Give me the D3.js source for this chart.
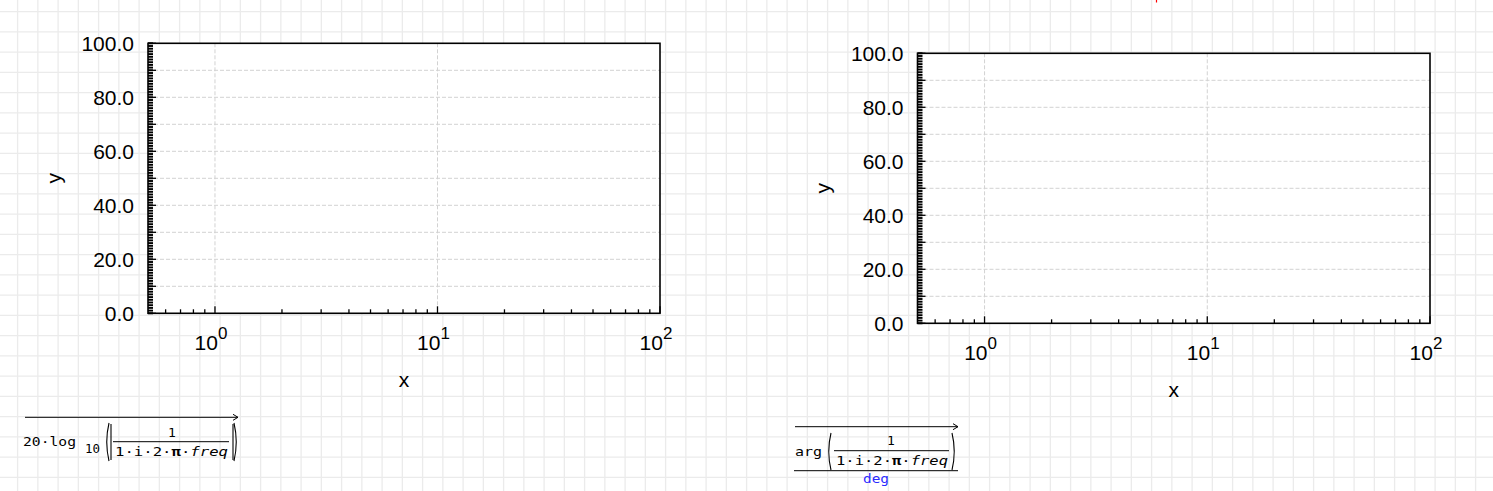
<!DOCTYPE html>
<html>
<head>
<meta charset="utf-8">
<script src="https://cdn.jsdelivr.net/npm/d3@7"></script>
<style>
  body { margin: 0; background: #fff; }
  svg { display: block; }
  .tick-label, .axis-title { font-family: "Liberation Sans", Arial, sans-serif; fill: #000; }
  .math { font-family: "DejaVu Sans Mono", "Liberation Mono", monospace; fill: #000; }
</style>
</head>
<body>
<div id="sheet"></div>
<script>
// Page size.
const WIDTH = 1493;
const HEIGHT = 491;

// Worksheet background grid.
const SHEET = { step: 20.25, x0: 17.6, y0: 11.7 };

// Both plots share the same (empty) axes.
const xDomain = [0.5, 100];
const yDomain = [0, 100];
const xDecades = [1, 10, 100];
const xDecadeExponents = ["0", "1", "2"];
const xMinorTicks = [0.6, 0.7, 0.8, 0.9, 2, 3, 4, 5, 6, 7, 8, 9, 20, 30, 40, 50, 60, 70, 80, 90];
const yLabelValues = [0, 20, 40, 60, 80, 100];
const yGridValues = [10, 20, 30, 40, 50, 60, 70, 80, 90];
const yMajorTicks = [0, 10, 20, 30, 40, 50, 60, 70, 80, 90, 100];

// Traces: no points evaluated in the reference (freq undefined).
const magnitudeDb = [];
const phaseDeg = [];

// Plot frames: left, right, top, bottom.
const PLOTS = [
  { l: 148, r: 660, t: 43.3, b: 313.3, xTitleY: 387, yTitleX: 61, series: magnitudeDb },
  { l: 917.5, r: 1430, t: 53.3, b: 323.3, xTitleY: 397, yTitleX: 830, series: phaseDeg },
];

const svg = d3
  .select("#sheet")
  .append("svg")
  .attr("width", WIDTH)
  .attr("height", HEIGHT);

// Background grid.
const grid = svg.append("g").attr("stroke", "#ebebeb").attr("stroke-width", 1.3);
for (let x = SHEET.x0; x < WIDTH; x += SHEET.step) {
  grid.append("line").attr("x1", x).attr("x2", x).attr("y1", 0).attr("y2", HEIGHT);
}
for (let y = SHEET.y0; y < HEIGHT; y += SHEET.step) {
  grid.append("line").attr("x1", 0).attr("x2", WIDTH).attr("y1", y).attr("y2", y);
}

// Little red mark at the top edge (cut-off region).
svg.append("line")
  .attr("x1", 1156.5).attr("x2", 1156.5).attr("y1", 0).attr("y2", 2.5)
  .attr("stroke", "#ff0000").attr("stroke-width", 1.2);

PLOTS.forEach(drawPlot);

function drawPlot(p) {
  const x = d3.scaleLog().domain(xDomain).range([p.l, p.r]);
  const y = d3.scaleLinear().domain(yDomain).range([p.b, p.t]);
  const g = svg.append("g");

  g.append("rect")
    .attr("x", p.l).attr("y", p.t)
    .attr("width", p.r - p.l).attr("height", p.b - p.t)
    .attr("fill", "#fff");

  // Dashed grid lines.
  g.selectAll(".vgrid")
    .data(xDecades.filter((d) => d < xDomain[1]))
    .enter().append("line")
    .attr("x1", (d) => x(d)).attr("x2", (d) => x(d))
    .attr("y1", p.t).attr("y2", p.b)
    .attr("stroke", "#d2d2d2").attr("stroke-dasharray", "4,2");
  g.selectAll(".hgrid")
    .data(yGridValues)
    .enter().append("line")
    .attr("x1", p.l).attr("x2", p.r)
    .attr("y1", (d) => y(d)).attr("y2", (d) => y(d))
    .attr("stroke", "#d2d2d2").attr("stroke-dasharray", "4,2");

  // Trace (empty).
  g.append("path")
    .datum(p.series)
    .attr("fill", "none").attr("stroke", "#c00000")
    .attr("d", d3.line().x((d) => x(d[0])).y((d) => y(d[1])));

  // Y ticks, pointing inward: dense minor ticks and longer ones every 10.
  g.selectAll(".yminor")
    .data(d3.range(yDomain[0], yDomain[1] + 1, 1))
    .enter().append("line")
    .attr("x1", p.l).attr("x2", p.l + 5)
    .attr("y1", (d) => y(d)).attr("y2", (d) => y(d))
    .attr("stroke", "#000").attr("stroke-width", 1.9);
  g.selectAll(".ymajor")
    .data(yMajorTicks)
    .enter().append("line")
    .attr("x1", p.l).attr("x2", p.l + 8)
    .attr("y1", (d) => y(d)).attr("y2", (d) => y(d))
    .attr("stroke", "#000").attr("stroke-width", 1.3);

  // X ticks, pointing up from the bottom.
  g.selectAll(".xminor")
    .data(xMinorTicks)
    .enter().append("line")
    .attr("x1", (d) => x(d)).attr("x2", (d) => x(d))
    .attr("y1", p.b).attr("y2", p.b - 4)
    .attr("stroke", "#000").attr("stroke-width", 1.3);
  g.selectAll(".xmajor")
    .data(xDecades)
    .enter().append("line")
    .attr("x1", (d) => x(d)).attr("x2", (d) => x(d))
    .attr("y1", p.b).attr("y2", p.b - 7)
    .attr("stroke", "#000").attr("stroke-width", 1.3);

  // Frame.
  g.append("rect")
    .attr("x", p.l).attr("y", p.t)
    .attr("width", p.r - p.l).attr("height", p.b - p.t)
    .attr("fill", "none").attr("stroke", "#000").attr("stroke-width", 1.6);

  // Y tick labels.
  g.selectAll(".ylabel")
    .data(yLabelValues)
    .enter().append("text")
    .attr("class", "tick-label")
    .attr("x", p.l - 14)
    .attr("y", (d) => y(d))
    .attr("dy", "0.36em")
    .attr("text-anchor", "end")
    .style("font-size", "21px")
    .text(d3.format(".1f"));

  // X tick labels: 10 with a superscript exponent.
  const xl = g.selectAll(".xlabel")
    .data(xDecades)
    .enter().append("text")
    .attr("class", "tick-label")
    .attr("x", (d) => x(d) - 4)
    .attr("y", p.b + 37)
    .attr("text-anchor", "middle")
    .style("font-size", "21px");
  xl.append("tspan").text("10");
  xl.append("tspan")
    .attr("dy", -11)
    .style("font-size", "17px")
    .text((d, i) => xDecadeExponents[i]);

  // Axis titles.
  g.append("text")
    .attr("class", "axis-title")
    .attr("x", (p.l + p.r) / 2)
    .attr("y", p.xTitleY)
    .attr("text-anchor", "middle")
    .style("font-size", "21px")
    .text("x");
  g.append("text")
    .attr("class", "axis-title")
    .attr("transform", "translate(" + p.yTitleX + "," + (p.t + p.b) / 2 + ") rotate(-90)")
    .attr("text-anchor", "middle")
    .style("font-size", "21px")
    .text("y");
}

// Mathcad expressions below the plots.
function mathText(x, y, size, width, parts, anchor) {
  const t = svg.append("text")
    .attr("class", "math")
    .attr("x", x).attr("y", y)
    .attr("text-anchor", anchor || "start")
    .style("font-size", size + "px");
  if (width) t.attr("textLength", width).attr("lengthAdjust", "spacingAndGlyphs");
  parts.forEach((s) => {
    const sp = t.append("tspan").text(s.t);
    if (s.b) sp.style("font-weight", "bold");
    if (s.i) sp.style("font-style", "italic");
    if (s.c) sp.style("fill", s.c);
  });
  return t;
}

function hline(x1, x2, y) {
  svg.append("line")
    .attr("x1", x1).attr("x2", x2).attr("y1", y).attr("y2", y)
    .attr("stroke", "#000").attr("stroke-width", 1);
}

function vecArrow(x1, x2, y) {
  hline(x1, x2, y);
  svg.append("path")
    .attr("d", "M" + (x2 - 5) + "," + (y - 3) + "L" + x2 + "," + y + "L" + (x2 - 5) + "," + (y + 3))
    .attr("fill", "none").attr("stroke", "#000").attr("stroke-width", 1);
}

function paren(x, y1, y2, dir) {
  // dir = 1 for "(", -1 for ")"
  const h = y2 - y1;
  svg.append("path")
    .attr("d", "M" + (x + 3 * dir) + "," + y1 +
      "Q" + (x - 1.5 * dir) + "," + (y1 + h / 2) + " " + (x + 3 * dir) + "," + y2)
    .attr("fill", "none").attr("stroke", "#000").attr("stroke-width", 1.1);
}

function vbar(x, y1, y2) {
  svg.append("line")
    .attr("x1", x).attr("x2", x).attr("y1", y1).attr("y2", y2)
    .attr("stroke", "#000").attr("stroke-width", 1.1);
}

const denom = [{ t: "1·i·2·" }, { t: "π", b: true }, { t: "·" }, { t: "freq", i: true }];

// 20·log10(|1/(1·i·2·π·freq)|) with vectorize arrow.
vecArrow(25, 238, 417.3);
mathText(23, 446, 13, 53, [{ t: "20·log" }]);
mathText(85, 453, 13, 15, [{ t: "10" }]);
paren(106, 423, 461, 1);
vbar(111, 424, 460);
mathText(172, 437, 13, null, [{ t: "1" }], "middle");
hline(113, 229, 441.7);
mathText(115, 456, 13, 113, denom);
vbar(233, 424, 460);
paren(237, 423, 461, -1);

// arg(1/(1·i·2·π·freq)) / deg with vectorize arrow.
vecArrow(795, 958, 426.7);
mathText(795, 455.7, 13, 27, [{ t: "arg" }]);
paren(828, 433, 470, 1);
mathText(891, 445, 13, null, [{ t: "1" }], "middle");
hline(834, 949, 450.7);
mathText(836, 465, 13, 112, denom);
paren(955, 433, 470, -1);
hline(794, 958, 470.7);
mathText(876, 483, 13, 26, [{ t: "deg", c: "#2a2aff" }], "middle");
</script>
</body>
</html>
